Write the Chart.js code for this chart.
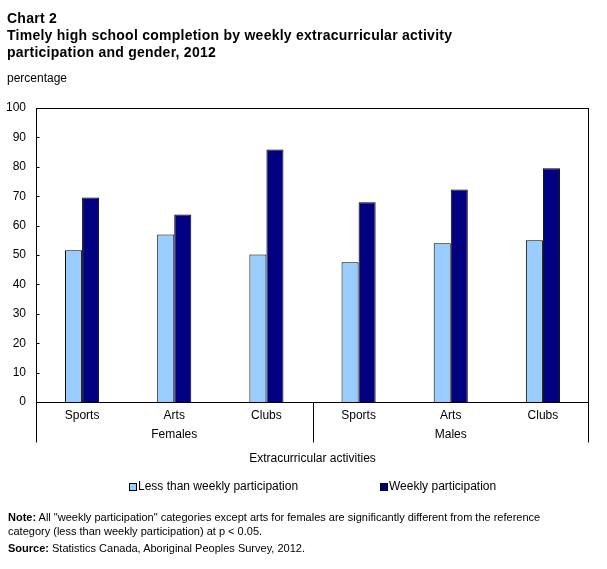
<!DOCTYPE html>
<html>
<head>
<meta charset="utf-8">
<script src="https://cdn.jsdelivr.net/npm/chart.js@4.4.1/dist/chart.umd.min.js"></script>
<style>
  body { margin: 0; background: #fff; font-family: "Liberation Sans", Arial, sans-serif; }
  #wrap { position: relative; width: 607px; height: 569px; }
  canvas { position: absolute; left: 0; top: 0; }
  .t { position: absolute; white-space: nowrap; color: #000; }
  .title { left: 7px; font-weight: bold; font-size: 14px; letter-spacing: 0.25px; line-height: 17px; }
  .small { font-size: 12px; line-height: 14px; }
  .note { left: 8px; font-size: 11px; line-height: 14px; }
  .box { position: absolute; width: 6px; height: 6px; border: 1px solid #000; }
</style>
</head>
<body>
<div id="wrap">
  <canvas id="chart" width="607" height="569"></canvas>
  <div class="t title" style="top:10px">Chart 2<br>Timely high school completion by weekly extracurricular activity<br>participation and gender, 2012</div>
  <div class="t small" style="left:7px;top:71px">percentage</div>
  <div id="legend"></div>
  <div class="t note" style="top:510px"><b>Note:</b> All "weekly participation" categories except arts for females are significantly different from the reference<br>category (less than weekly participation) at p &lt; 0.05.</div>
  <div class="t note" style="top:541px"><b>Source:</b> Statistics Canada, Aboriginal Peoples Survey, 2012.</div>
</div>
<script>
// data
const groups = ['Females', 'Males'];
const activities = ['Sports', 'Arts', 'Clubs'];
const lessThanWeekly = [51.6, 57.0, 50.2, 47.5, 54.0, 55.0];
const weekly = [69.6, 63.8, 85.9, 67.9, 72.3, 79.5];
const seriesNames = ['Less than weekly participation', 'Weekly participation'];
const xTitle = 'Extracurricular activities';

const colors = ['#99CCFF', '#000080'];
const FONT = '"Liberation Sans", Arial, sans-serif';

const labels = groups.flatMap(() => activities);

// frame, inward y ticks, gender groups and axis title
const frame = {
  id: 'frame',
  afterDraw(chart) {
    const { ctx, chartArea: a, scales: { x, y } } = chart;
    const line = (x1, y1, x2, y2) => { ctx.beginPath(); ctx.moveTo(x1, y1); ctx.lineTo(x2, y2); ctx.stroke(); };
    ctx.save();
    ctx.strokeStyle = '#000';
    ctx.lineWidth = 1;
    const L = Math.round(a.left) + 0.5, R = Math.round(a.right) - 0.5;
    const T = Math.round(a.top) + 0.5, B = Math.round(a.bottom) + 0.5;
    ctx.strokeRect(L, T, R - L, B - T);
    y.ticks.forEach(t => {
      const py = Math.round(y.getPixelForValue(t.value)) + 0.5;
      line(L, py, L + 3, py);
    });
    const n = activities.length;
    const edges = [L, Math.round((x.getPixelForValue(n - 1) + x.getPixelForValue(n)) / 2) + 0.5, R];
    edges.forEach(px => line(px, B, px, B + 40));
    ctx.fillStyle = '#000';
    ctx.font = '12px ' + FONT;
    ctx.textAlign = 'center';
    ctx.textBaseline = 'middle';
    groups.forEach((g, i) => {
      const c = (x.getPixelForValue(i * n) + x.getPixelForValue(i * n + n - 1)) / 2;
      ctx.fillText(g, c, a.bottom + 33);
    });
    ctx.fillText(xTitle, (a.left + a.right) / 2, a.bottom + 57);
    ctx.restore();
  }
};

new Chart(document.getElementById('chart'), {
  type: 'bar',
  data: {
    labels: labels,
    datasets: [
      { label: seriesNames[0], data: lessThanWeekly, backgroundColor: colors[0], borderColor: '#000', borderWidth: 1 },
      { label: seriesNames[1], data: weekly, backgroundColor: colors[1], borderColor: '#000', borderWidth: 1 }
    ]
  },
  options: {
    responsive: false,
    animation: false,
    layout: { padding: { left: 0, right: 18, top: 108, bottom: 137 } },
    datasets: { bar: { categoryPercentage: 0.37, barPercentage: 1.0 } },
    plugins: { legend: { display: false }, tooltip: { enabled: false } },
    scales: {
      x: {
        grid: { display: false, drawTicks: false },
        border: { display: false },
        ticks: { color: '#000', font: { family: FONT, size: 12 }, padding: 6, maxRotation: 0 },
        afterFit: s => { s.height = 30; }
      },
      y: {
        min: 0, max: 100,
        grid: { display: false, drawTicks: false },
        border: { display: false },
        ticks: { stepSize: 10, color: '#000', font: { family: FONT, size: 12 }, padding: 10 },
        afterFit: s => { s.width = 36; }
      }
    }
  },
  plugins: [frame]
});

// legend
const legendSpots = [129, 380];
const leg = document.getElementById('legend');
seriesNames.forEach((name, i) => {
  const b = document.createElement('div');
  b.className = 'box';
  b.style.left = legendSpots[i] + 'px';
  b.style.top = '483px';
  b.style.background = colors[i];
  leg.appendChild(b);
  const t = document.createElement('div');
  t.className = 't small';
  t.style.left = (legendSpots[i] + 9) + 'px';
  t.style.top = '479px';
  t.textContent = name;
  leg.appendChild(t);
});
</script>
</body>
</html>
